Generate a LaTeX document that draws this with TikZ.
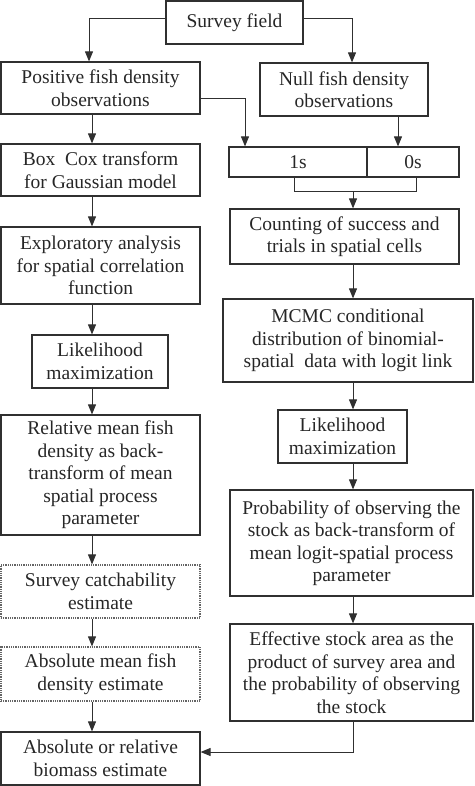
\documentclass[tikz,border=0pt]{standalone}
\usepackage{fontspec}
\setmainfont{Liberation Serif}
\usetikzlibrary{arrows.meta}
\definecolor{ln}{HTML}{303030}
\tikzset{
  box/.style={draw=ln, line width=1.2pt, align=center, inner sep=0pt,
    font=\fontsize{19.5}{22.5}\selectfont, text=black!85},
  dotbox/.style={box, draw=ln!75, dash pattern=on 1pt off 0.8pt},
  arr/.style={draw=ln, line width=1pt, -{Triangle[length=10pt,width=8pt]}},
  ln/.style={draw=ln, line width=1pt},
}
\begin{document}
\begin{tikzpicture}[x=1pt,y=-1pt]
\useasboundingbox (0,0) rectangle (474,786);
% boxes
\node[box, minimum width=137pt, minimum height=43pt] (survey) at (234.5,22.5) {Survey field};
\node[box, minimum width=199pt, minimum height=52pt] (pos) at (100.5,88) {Positive fish density\\observations};
\node[box, minimum width=168pt, minimum height=53pt] (null) at (344,89.5) {Null fish density\\observations};
\node[box, minimum width=199pt, minimum height=52pt] (boxcox) at (100.5,170) {Box\ \ Cox transform\\for Gaussian model};
\node[box, minimum width=138pt, minimum height=30pt] (ones) at (298,162) {1s};
\node[box, minimum width=92pt, minimum height=30pt] (zeros) at (413,162) {0s};
\node[box, minimum width=229pt, minimum height=55pt] (count) at (344.5,236.5) {Counting of success and\\trials in spatial cells};
\node[box, minimum width=250pt, minimum height=83pt] (mcmc) at (348,340.5) {MCMC conditional\\distribution of binomial-\\spatial\ \ data with logit link};
\node[box, minimum width=199pt, minimum height=77pt] (expl) at (100.5,265.5) {Exploratory analysis\\for spatial correlation\\function};
\node[box, minimum width=136pt, minimum height=53pt] (likL) at (100,361.5) {Likelihood\\maximization};
\node[box, minimum width=199pt, minimum height=120pt] (rel) at (100.5,475) {Relative mean fish\\density as back-\\transform of mean\\spatial process\\parameter};
\node[box, minimum width=129pt, minimum height=53pt] (likR) at (342.5,436.5) {Likelihood\\maximization};
\node[box, minimum width=243pt, minimum height=106pt] (prob) at (351.5,543) {Probability of observing the\\stock as back-transform of\\mean logit-spatial process\\parameter};
\node[box, minimum width=243pt, minimum height=97pt] (eff) at (351.5,672.5) {Effective stock area as the\\product of survey area and\\the probability of observing\\the stock};
\node[dotbox, minimum width=199pt, minimum height=53pt] (catch) at (100.5,591.5) {Survey catchability\\estimate};
\node[dotbox, minimum width=199pt, minimum height=54pt] (absm) at (100.5,674) {Absolute mean fish\\density estimate};
\node[box, minimum width=199pt, minimum height=53pt] (final) at (100.5,758.5) {Absolute or relative\\biomass estimate};
% helper coordinates
\coordinate (lx) at (92,0);
\coordinate (rx) at (353,0);
\coordinate (slx) at (89,0);
\coordinate (srx) at (352,0);
\coordinate (sy) at (0,19);
\coordinate (py) at (0,99);
\coordinate (pz) at (245,0);
\coordinate (nz) at (398,0);
\coordinate (b1) at (294,0);
\coordinate (b2) at (416,0);
\coordinate (by) at (0,192);
\coordinate (fy) at (0,752);
% connectors
\draw[arr] (survey.west |- sy) -| (pos.north -| slx);
\draw[arr] (survey.east |- sy) -| (null.north -| srx);
\draw[arr] (pos.east |- py) -| (ones.north -| pz);
\draw[arr] (null.south -| nz) -- (zeros.north -| nz);
\draw[ln] (ones.south -| b1) |- (b1 |- by) -| (zeros.south -| b2);
\draw[arr] (rx |- by) -- (count.north -| rx);
\draw[arr] (count.south -| rx) -- (mcmc.north -| rx);
\draw[arr] (mcmc.south -| rx) -- (likR.north -| rx);
\draw[arr] (likR.south -| rx) -- (prob.north -| rx);
\draw[arr] (prob.south -| rx) -- (eff.north -| rx);
\draw[arr] (eff.south -| rx) |- (final.east |- fy);
\draw[arr] (pos.south -| lx) -- (boxcox.north -| lx);
\draw[arr] (boxcox.south -| lx) -- (expl.north -| lx);
\draw[arr] (expl.south -| lx) -- (likL.north -| lx);
\draw[arr] (likL.south -| lx) -- (rel.north -| lx);
\draw[arr] (rel.south -| lx) -- (catch.north -| lx);
\draw[arr] (catch.south -| lx) -- (absm.north -| lx);
\draw[arr] (absm.south -| lx) -- (final.north -| lx);
\end{tikzpicture}
\end{document}
